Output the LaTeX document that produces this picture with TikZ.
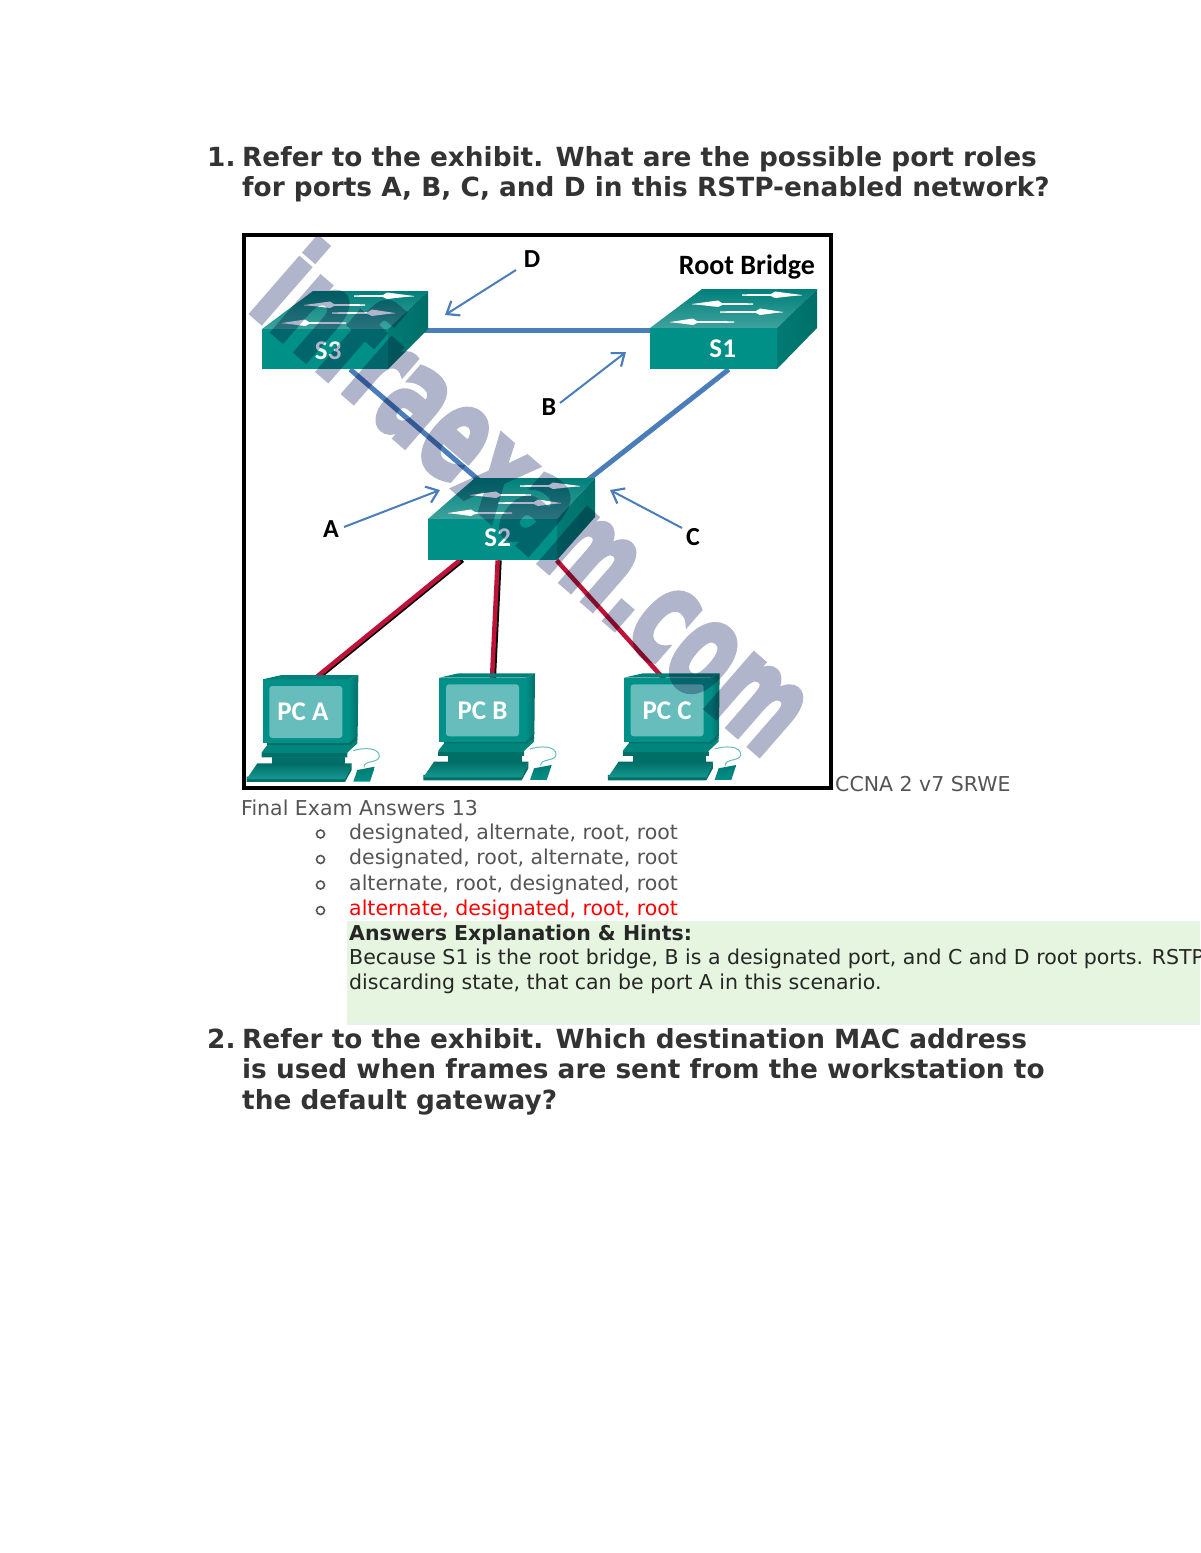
\documentclass[tikz,border=0pt]{standalone}
\usepackage{fontspec}
\setmainfont{DejaVu Sans}
\newfontfamily\carl{Carlito}
\newfontfamily\wmfont[BoldFeatures={FakeBold=4}]{DejaVu Sans}
\usetikzlibrary{arrows.meta}
\pgfdeclarelayer{back}
\pgfsetlayers{back,main}
\definecolor{tealfront}{HTML}{009088}
\definecolor{tealside}{HTML}{006F68}
\definecolor{tealtopA}{HTML}{00807A}
\definecolor{tealtopB}{HTML}{3FA29D}
\definecolor{screenc}{HTML}{66BDBB}
\definecolor{linkblue}{HTML}{4A7EBB}
\definecolor{linkred}{HTML}{BE1238}
\definecolor{wm}{HTML}{B0B5CC}
\definecolor{titlec}{HTML}{333333}
\definecolor{bodyc}{HTML}{555555}
\definecolor{hintbg}{HTML}{E6F5E0}
\tikzset{
  titletext/.style={anchor=base west,inner sep=0pt,text=titlec,font=\fontsize{26.35}{27}\selectfont\bfseries},
  bodytext/.style={anchor=base west,inner sep=0pt,text=bodyc,font=\fontsize{20.5}{21}\selectfont},
  hinttext/.style={anchor=base west,inner sep=0pt,text=black!85,font=\fontsize{20.5}{21}\selectfont},
  bulletmark/.style={circle,draw=bodyc,line width=1.6pt,minimum size=8pt,inner sep=0pt},
  swfront/.style={fill=tealfront,inner sep=0pt,text=white,font=\carl\bfseries\fontsize{27}{27}\selectfont},
  pcscreen/.style={fill=screenc,rounded corners=3pt,inner sep=0pt,minimum width=73pt,minimum height=52pt,text=white,font=\carl\bfseries\fontsize{27}{27}\selectfont},
  exlabel/.style={inner sep=0pt,text=black,font=\carl\bfseries\fontsize{26}{26}\selectfont},
  pointer/.style={draw=linkblue,line width=2pt,-{Straight Barb[length=11pt,width=17pt,line width=2.2pt]}},
  bluelink/.style={draw=linkblue,line width=5pt},
  redlink/.style={draw=linkred,line width=4.5pt},
  shadowlink/.style={draw=black,line width=4pt},
  swarrow/.style={draw=gray!70,line width=1.4pt},
  swhead/.style={fill=white},
}
% name, x, y of front top-left, width, height, top dx left, top dx right, top dy, label
\newcommand\switchicon[9]{%
  \shade[top color=tealtopA,bottom color=tealtopB] (#2,#3) -- ++(#6,-#8) -- (#2+#4+#7,#3-#8) -- (#2+#4,#3) -- cycle;
  \shade[left color=tealfront!85!black,right color=tealside] (#2+#4,#3) -- (#2+#4+#7,#3-#8) -- (#2+#4+#7,#3-#8+#5-2) -- (#2+#4,#3+#5) -- cycle;
  \node[swfront,anchor=north west,minimum width=#4pt,minimum height=#5pt] (#1) at (#2,#3) {#9};
  \foreach \ay/\tail/\tip/\bul/\dir in {-33/92/152/125/1,-24/103/42/68/-1,-16/70/133/110/1,-6/84/20/43/-1}{
    \draw[swarrow] (#2+\tail,#3+\ay+0.6) -- (#2+\tip,#3+\ay+0.6);
    \fill[swhead] (#2+\tip,#3+\ay) -- (#2+\bul,#3+\ay-3.5) -- (#2+\bul-\dir*4,#3+\ay-1) -- (#2+\tail,#3+\ay-0.7) -- (#2+\tail,#3+\ay+0.7) -- (#2+\bul-\dir*4,#3+\ay+1) -- (#2+\bul,#3+\ay+3) -- cycle;
  }
}
% name, x, y of local origin, label
\newcommand\pcicon[4]{%
  \begin{scope}[shift={(#2,#3)},x=0.3333pt,y=-0.3333pt]
    \fill[tealside] (95,285) rectangle (315,315);
    \fill[tealside] (20,350) -- (318,350) -- (335,310) -- (335,330) -- (315,366) -- (20,366) -- cycle;
    \shade[top color=tealfront!75!black,bottom color=tealfront!92!white] (20,357) -- (52,310) -- (335,310) -- (316,357) -- cycle;
    \fill[tealside] (82,245) rectangle (345,258);
    \fill[tealfront!92!black] (65,277) -- (82,255) -- (330,255) -- (352,236) -- (352,250) -- (322,278) -- (322,292) -- (65,292) -- cycle;
    \fill[tealside] (65,280) rectangle (322,292);
    \fill[tealside] (327,240) -- (353,222) -- (352,240) -- (327,258) -- cycle;
    \fill[tealfront] (68,58) rectangle (327,250);
    \fill[tealtopA] (68,58) -- (125,45) -- (355,45) -- (327,58) -- cycle;
    \shade[left color=tealfront,right color=tealside] (327,58) -- (355,45) -- (353,225) -- (327,250) -- cycle;
    \draw[screenc,line width=1pt] (340,272) .. controls (370,262) and (420,262) .. (418,290) .. controls (415,310) and (370,300) .. (372,322);
    \shade[top color=tealfront!85!black,bottom color=tealfront] (340,365) -- (352,330) -- (405,320) -- (390,365) -- cycle;
    \node[pcscreen] (#1) at (197.5,156) {#4};
  \end{scope}
}
\begin{document}
\begin{tikzpicture}[x=1pt,y=-1pt]
\useasboundingbox (0,0) rectangle (1200,1553);
\begin{pgfonlayer}{back}
  \fill[white] (0,0) rectangle (1200,1553);
\end{pgfonlayer}

% question 1
\node[titletext] (qa) at (207,166) {1.};
\node[titletext] (qb) at (242,166) {Refer to the exhibit. What are the possible port roles};
\node[titletext] (qc) at (242,196) {for ports A, B, C, and D in this RSTP-enabled network?};

% exhibit
\switchicon{s3}{262}{329}{126}{40}{51}{40}{38}{\raisebox{-10.5pt}[0pt][0pt]{\hspace*{6pt}S3}}
\switchicon{s1}{650}{328}{127}{41}{52}{40}{39}{\raisebox{-9pt}[0pt][0pt]{\hspace*{18pt}S1}}
\switchicon{s2}{428}{519}{129}{41}{47}{38}{41}{\raisebox{-7pt}[0pt][0pt]{\hspace*{10pt}S2}}
\pcicon{pca}{240}{660}{\raisebox{-4pt}{PC A\hspace*{6pt}}}
\pcicon{pcb}{416.7}{658.3}{PC B}
\pcicon{pcc}{601.3}{658.3}{\raisebox{-6pt}{PC C}}

\begin{pgfonlayer}{back}
  \draw[bluelink] ([yshift=-1pt]s3.north east) -- ([yshift=-2pt]s1.north west);
  \draw[bluelink] ([xshift=25pt]s3.south) -- ([xshift=-14pt,yshift=39pt]s2.north);
  \draw[bluelink] ([xshift=15pt]s1.south) -- ([xshift=95pt,yshift=39pt]s2.north);
  \draw[shadowlink] ([xshift=-30pt]s2.south) -- ([xshift=-2pt,yshift=-4pt]pca.north);
  \draw[redlink] ([xshift=-33pt]s2.south) -- ([xshift=-5pt,yshift=-4pt]pca.north);
  \draw[shadowlink] ([xshift=7pt]s2.south) -- ([xshift=11pt,yshift=-4pt]pcb.north);
  \draw[redlink] ([xshift=5pt]s2.south) -- ([xshift=9pt,yshift=-4pt]pcb.north);
  \draw[redlink] ([xshift=64pt]s2.south) -- ([xshift=5pt,yshift=-4pt]pcc.north);
\end{pgfonlayer}

\node[exlabel,font=\carl\bfseries\fontsize{28}{28}\selectfont] (lroot) at (747,267) {Root Bridge};
\node[exlabel] (ld) at (532,259) {D};
\node[exlabel] (lb) at (549,407) {B};
\node[exlabel] (la) at (331,529) {A};
\node[exlabel] (lc) at (693,537) {C};
\coordinate (pd) at (445,315);
\coordinate (pb) at (626,352);
\coordinate (pa) at (440,490);
\coordinate (pc) at (610,490);
\draw[pointer] (516,270) -- (pd);
\draw[pointer] (560,403) -- (pb);
\draw[pointer] (344,527) -- (pa);
\draw[pointer] (682,528) -- (pc);

% watermark
\begin{scope}[blend mode=multiply]
 \begin{scope}[transparency group]
  \node[inner sep=0pt,text=wm,rotate=-41,font=\wmfont\bfseries\fontsize{132}{132}\selectfont,xscale=0.62] (wmark) at (538,497) {infraexam.com};
 \end{scope}
\end{scope}
\node[draw=black,line width=4pt,inner sep=0pt,outer sep=0pt,minimum width=587pt,minimum height=552.5pt,anchor=north west] (frame) at (243.5,235) {};

% answers
\node[bodytext] (capa) at (835,791) {CCNA 2 v7 SRWE};
\node[bodytext] (capb) at (241,815) {Final Exam Answers 13};
\node[bulletmark] (ba) at (320.5,834) {};
\node[bulletmark] (bb) at (320.5,859.5) {};
\node[bulletmark] (bc) at (320.5,885) {};
\node[bulletmark] (bd) at (320.5,910.5) {};
\node[bodytext] (ia) at (349,839) {designated, alternate, root, root};
\node[bodytext] (ib) at (349,864) {designated, root, alternate, root};
\node[bodytext] (ic) at (349,890) {alternate, root, designated, root};
\fill[hintbg] (347,921) rectangle (1200,1023);
\fill[black!7] (347,1023) rectangle (1200,1025);
\node[bodytext,text=red] (id) at (349,915) {alternate, designated, root, root};
\node[hinttext,font=\fontsize{20.5}{21}\selectfont\bfseries] (ha) at (349,940) {Answers Explanation \& Hints:};
\node[hinttext] (hb) at (349,964) {Because S1 is the root bridge, B is a designated port, and C and D root ports. RSTP};
\node[hinttext] (hc) at (349,989) {discarding state, that can be port A in this scenario.};

% question 2
\node[titletext] (qd) at (207,1048) {2.};
\node[titletext] (qe) at (242,1048) {Refer to the exhibit. Which destination MAC address};
\node[titletext] (qf) at (242,1078) {is used when frames are sent from the workstation to};
\node[titletext] (qg) at (242,1109) {the default gateway?};
\end{tikzpicture}
\end{document}
